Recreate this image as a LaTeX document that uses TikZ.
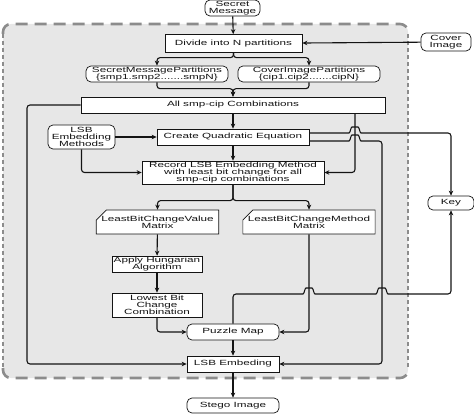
\documentclass[tikz,border=0pt]{standalone}
\usepackage{fontspec}
\setmainfont{Liberation Sans}[FakeStretch=1.56]
\definecolor{InkBlack}{RGB}{20, 20, 20}
\definecolor{PanelGray}{RGB}{231, 231, 231}
\definecolor{FrameGray}{RGB}{140, 140, 140}
\usetikzlibrary{
    arrows.meta,
    shapes.misc,
    calc,
    positioning
    }
\tikzset{
    flowbox/.style={draw=InkBlack, fill=white, line width=0.7pt, text=InkBlack, anchor=center, align=center, inner sep=0pt, font=\fontsize{7.5}{7}\selectfont},
    roundbox/.style={flowbox, rounded corners=5pt},
    matrixbox/.style={flowbox, chamfered rectangle, chamfered rectangle corners=north west, chamfered rectangle sep=5pt},
    flowline/.style={InkBlack, line width=1.1pt, rounded corners=3pt, -{Stealth[length=5pt,width=4.5pt]}},
    plainline/.style={InkBlack, line width=1.1pt, rounded corners=3pt},
    frameh/.style={FrameGray, line width=2.6pt, dash pattern=on 12pt off 7pt},
    framev/.style={FrameGray, line width=2.6pt, dash pattern=on 4pt off 3pt}
}
\begin{document}
\begin{tikzpicture}[x=1pt, y=-1pt]

    \useasboundingbox (0,0) rectangle (474,414);

    %Panel
    \fill[PanelGray, rounded corners=8pt] (3,24) rectangle (408,378);
    \draw[frameh, rounded corners=8pt] (3,34) -- (3,24) -- (408,24) -- (408,34);
    \draw[frameh, rounded corners=8pt] (3,368) -- (3,378) -- (408,378) -- (408,368);
    \draw[framev] (3,34) -- (3,368);
    \draw[framev] (408,34) -- (408,368);

    %Inputs
    \node[roundbox, minimum width=55pt, minimum height=16pt] (secret) at (232.5,8) {Secret\\Message};
    \node[roundbox, minimum width=50pt, minimum height=18pt] (cover) at (446,42) {Cover\\Image};
    \node[flowbox, minimum width=137pt, minimum height=18pt] (divide) at (233.5,43.5) {Divide into N partitions};
    \node[roundbox, minimum width=142pt, minimum height=16pt] (smp) at (157,74) {SecretMessagePartitions\\\{smp1.smp2.......smpN\}};
    \node[roundbox, minimum width=142pt, minimum height=16pt] (cip) at (309,74) {CoverImagePartitions\\\{cip1.cip2.......cipN\}};
    \node[flowbox, minimum width=304pt, minimum height=16pt] (allc) at (233,105) {All smp-cip Combinations};

    %Equation
    \node[roundbox, minimum width=67pt, minimum height=24pt] (lsbm) at (81.5,137) {LSB\\Embedding\\Methods};
    \node[flowbox, minimum width=152pt, minimum height=16pt] (cqe) at (233,137) {Create Quadratic Equation};
    \node[flowbox, minimum width=182pt, minimum height=23pt] (rec) at (233,172.5) {Record LSB Embedding Method\\with least bit change for all\\smp-cip combinations};
    \node[roundbox, minimum width=46pt, minimum height=14pt] (key) at (451,203) {Key};

    %Matrices
    \node[matrixbox, minimum width=121pt, minimum height=24pt] (valm) at (157.5,222) {LeastBitChangeValue\\Matrix};
    \node[matrixbox, minimum width=126pt, minimum height=24pt] (methm) at (309,222) {LeastBitChangeMethod\\Matrix};
    \node[flowbox, minimum width=90pt, minimum height=16pt] (hung) at (157,264) {Apply Hungarian\\Algorithm};
    \node[flowbox, minimum width=90pt, minimum height=24pt] (lowest) at (157,305) {Lowest Bit\\Change\\Combination};

    %Output
    \node[roundbox, minimum width=92pt, minimum height=16pt] (puzzle) at (233,332) {Puzzle Map};
    \node[flowbox, minimum width=92pt, minimum height=16pt] (lsbe) at (233,364) {LSB Embeding};
    \node[roundbox, minimum width=92pt, minimum height=15pt] (stego) at (233,405.5) {Stego Image};

    %Connectors
    \draw[flowline] (secret) -- (divide);
    \draw[flowline] (cover) -- (divide);
    \draw[flowline] (divide.south) |- ([yshift=8pt]smp.north) -- (smp.north);
    \draw[flowline] (divide.south) |- ([yshift=8pt]cip.north) -- (cip.north);
    \draw[flowline] (smp.south) |- ([yshift=8pt]allc.north) -- (allc.north);
    \draw[flowline] (cip.south) |- ([yshift=8pt]allc.north) -- (allc.north);
    \draw[flowline] (allc.west) -| (27,364) -- (lsbe.west);
    \draw[flowline] (allc) -- (cqe);
    \draw[flowline] (lsbm) -- (cqe);
    \draw[flowline] (cqe) -- (rec);
    \draw[flowline] (lsbm.south) |- (rec.west);
    \draw[flowline] ([xshift=122pt]allc.south) |- (rec.east);
    \draw[flowline] ([yshift=4pt]cqe.east) -- (346,133) to[out=0, in=180] (355,127) to[out=0, in=180] (364,133) -| (key.north);
    \draw[flowline] ([yshift=-4pt]cqe.east) -- (346,141) to[out=0, in=180] (355,135) to[out=0, in=180] (364,141) -| (382,364) -- (lsbe.east);
    \draw[flowline] (rec.south) |- ([yshift=9pt]valm.north) -- (valm.north);
    \draw[flowline] (rec.south) |- ([yshift=9pt]methm.north) -- (methm.north);
    \draw[flowline] (valm) -- (hung);
    \draw[flowline] (hung) -- (lowest);
    \draw[flowline] (lowest.south) |- (puzzle.west);
    \draw[flowline] (methm.south) |- (puzzle.east);
    \draw[flowline] (puzzle.north) |- (300,294) to[out=0, in=180] (309,288) to[out=0, in=180] (318,294) -- (373,294) to[out=0, in=180] (382,288) to[out=0, in=180] (391,294) -| (key.south);
    \draw[flowline] (puzzle) -- (lsbe);
    \draw[flowline] (lsbe) -- (stego);

\end{tikzpicture}
\end{document}
